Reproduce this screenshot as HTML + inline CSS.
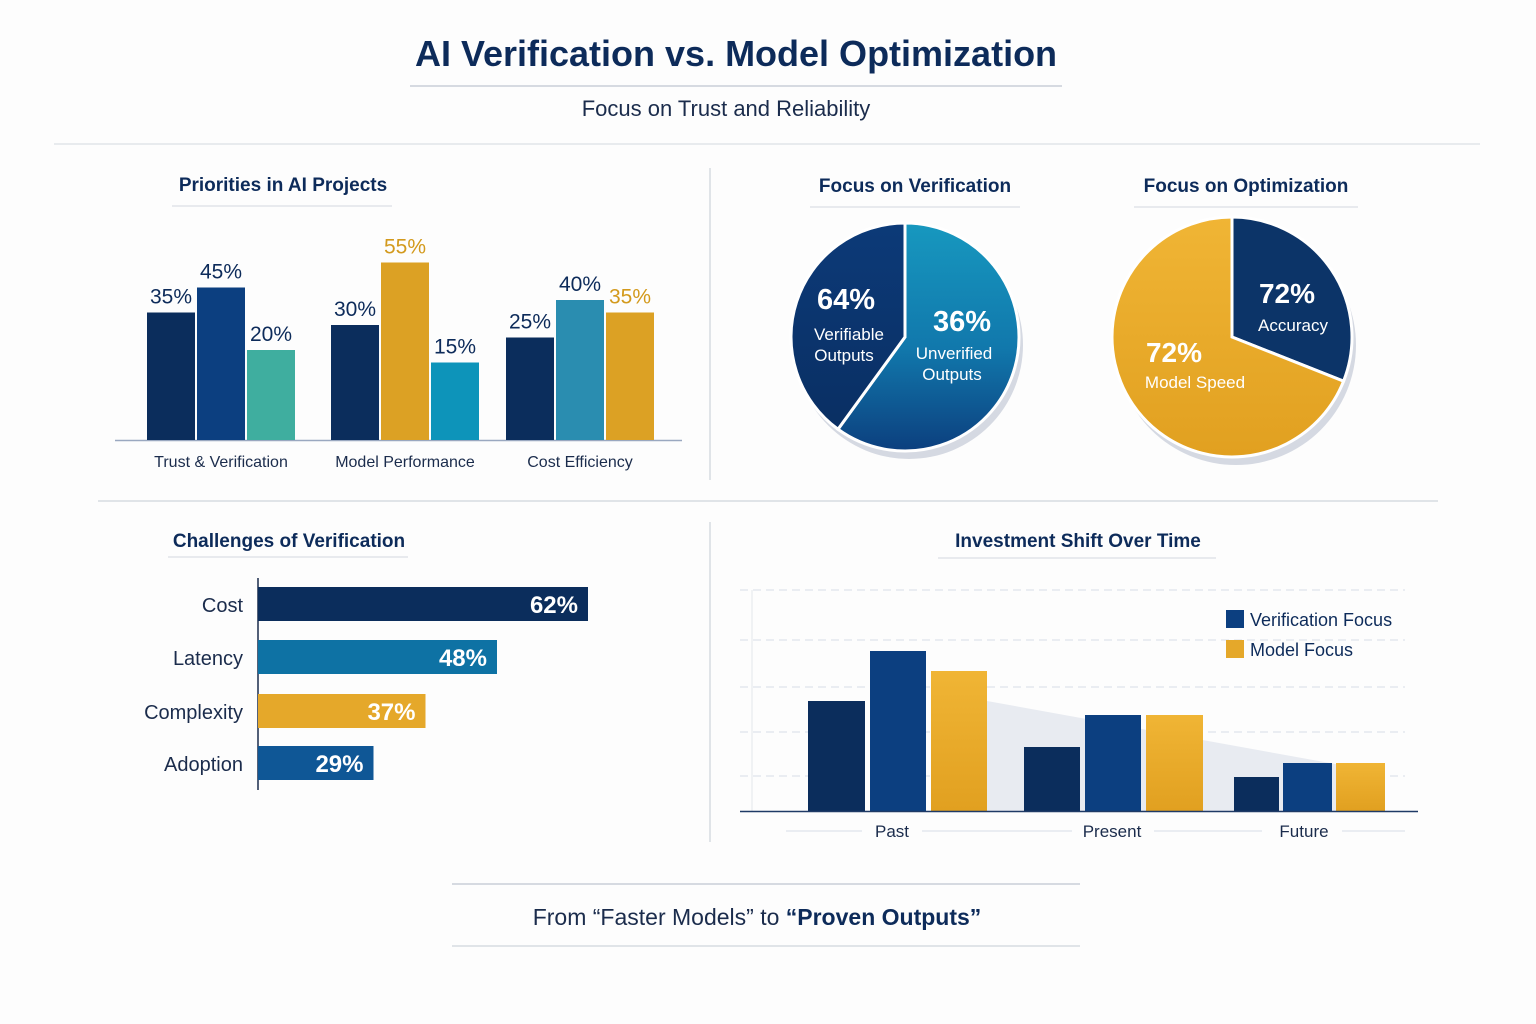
<!DOCTYPE html>
<html><head><meta charset="utf-8"><style>
body{margin:0;background:#fdfdfd;font-family:"Liberation Sans",sans-serif}
svg{display:block}
</style></head><body>
<svg id="s" width="1536" height="1024" viewBox="0 0 1536 1024" xmlns="http://www.w3.org/2000/svg">
<defs>
<linearGradient id="tealg" x1="0" y1="0" x2="0" y2="1"><stop offset="0" stop-color="#1798bf"/><stop offset="0.55" stop-color="#1178ac"/><stop offset="1" stop-color="#0c3f7e"/></linearGradient>
<linearGradient id="navyg" x1="0" y1="0" x2="0" y2="1"><stop offset="0" stop-color="#0c3a78"/><stop offset="1" stop-color="#0a2f63"/></linearGradient>
<linearGradient id="goldg" x1="0" y1="0" x2="0" y2="1"><stop offset="0" stop-color="#f0b535"/><stop offset="1" stop-color="#e1a020"/></linearGradient>
</defs>
<text x="736" y="66" text-anchor="middle" font-size="36" font-weight="bold" fill="#0d2b5a">AI Verification vs. Model Optimization</text>
<line x1="410" y1="86" x2="1062" y2="86" stroke="#c9ced8" stroke-width="1.5"/>
<text x="726" y="116" text-anchor="middle" font-size="22" fill="#1b2c4c">Focus on Trust and Reliability</text>
<line x1="54" y1="144" x2="1480" y2="144" stroke="#e2e5ea" stroke-width="1.5"/>
<line x1="710" y1="168" x2="710" y2="480" stroke="#d7dbe2" stroke-width="1.5"/>
<line x1="98" y1="501" x2="1438" y2="501" stroke="#d7dbe2" stroke-width="1.5"/>
<line x1="710" y1="522" x2="710" y2="842" stroke="#d7dbe2" stroke-width="1.5"/>

<text x="283" y="191" text-anchor="middle" font-size="19" font-weight="bold" fill="#0d2b5a">Priorities in AI Projects</text>
<line x1="172" y1="206" x2="392" y2="206" stroke="#d3d8e0"/>
<text x="915" y="192" text-anchor="middle" font-size="19" font-weight="bold" fill="#0d2b5a">Focus on Verification</text>
<line x1="810" y1="207" x2="1020" y2="207" stroke="#d3d8e0"/>
<text x="1246" y="192" text-anchor="middle" font-size="19" font-weight="bold" fill="#0d2b5a">Focus on Optimization</text>
<line x1="1134" y1="207" x2="1358" y2="207" stroke="#d3d8e0"/>
<text x="289" y="547" text-anchor="middle" font-size="19" font-weight="bold" fill="#0d2b5a">Challenges of Verification</text>
<line x1="168" y1="557" x2="408" y2="557" stroke="#d3d8e0"/>
<text x="1078" y="547" text-anchor="middle" font-size="19" font-weight="bold" fill="#0d2b5a">Investment Shift Over Time</text>
<line x1="938" y1="558" x2="1216" y2="558" stroke="#d3d8e0"/>

<g id="g1"></g>
<g id="g2"></g>
<g id="g3"></g>
<g id="g4"></g>

<line x1="452" y1="884" x2="1080" y2="884" stroke="#c9ced8" stroke-width="1.5"/>
<text x="757" y="925" text-anchor="middle" font-size="23" fill="#1b2c4c">From “Faster Models” to <tspan font-weight="bold" fill="#0d2b5a">“Proven Outputs”</tspan></text>
<line x1="452" y1="946" x2="1080" y2="946" stroke="#d7dbe2" stroke-width="1.5"/>
</svg>
<script>
// ---- Priorities data
const priCategories = ["Trust & Verification","Model Performance","Cost Efficiency"];
const priValues = [[35,45,20],[30,55,15],[25,40,35]];
const priColors = [["#0b2d5c","#0c3f80","#3fae9f"],["#0b2d5c","#dca124","#0d94ba"],["#0b2d5c","#2a8db0","#dca124"]];
const priLabelColors = [["#0d2b5a","#0d2b5a","#0d2b5a"],["#0d2b5a","#d39a1d","#0d2b5a"],["#0d2b5a","#0d2b5a","#d39a1d"]];
// ---- Pie data (slice geometry as drawn in the picture)
const pie1Values = [60,40];
const pie1Labels = ["36%","64%"];
const pie2Values = [31,69];
const pie2Labels = ["72%","72%"];
// ---- Challenges data
const chCategories = ["Cost","Latency","Complexity","Adoption"];
const chValues = [62,48,37,29];
const chColors = ["#0b2d5c","#0e72a4","#e5a82a","#0f5796"];
// ---- Investment data
const invCategories = ["Past","Present","Future"];
const invSeriesA = [55,32,17];
const invSeriesB = [80,48,24];
const invSeriesC = [70,48,24];

const NS="http://www.w3.org/2000/svg";
function mk(p,t,a){const e=document.createElementNS(NS,t);for(const k in a)e.setAttribute(k,a[k]);p.appendChild(e);return e;}

// Priorities chart
const g1=document.getElementById('g1');
const priBase=440, priX0=[147,331,506], priW=48, priGap=2;
function priH(v){return 40+2.5*v;}
mk(g1,'line',{x1:115,y1:440.5,x2:682,y2:440.5,stroke:'#9aa8c0','stroke-width':1.5});
priCategories.forEach((c,i)=>{
  priValues[i].forEach((v,j)=>{
    const x=priX0[i]+j*(priW+priGap), h=priH(v);
    const r=mk(g1,'rect',{x:x,y:priBase-h,width:priW,height:h,fill:priColors[i][j]});
    
    
    const t=mk(g1,'text',{x:x+priW/2,y:priBase-h-9,'text-anchor':'middle','font-size':21,fill:priLabelColors[i][j]});
    t.textContent=v+'%';
    
    
  });
  const l=mk(g1,'text',{x:priX0[i]+74,y:467,'text-anchor':'middle','font-size':16,fill:'#1b2c4c'});
  l.textContent=c;
  
  
});

// Pies
const g2=document.getElementById('g2');
function arc(cx,cy,r,a0,a1){const p=a=>[cx+r*Math.sin(a),cy-r*Math.cos(a)];const [x0,y0]=p(a0),[x1,y1]=p(a1);return `M${cx},${cy}L${x0},${y0}A${r},${r} 0 ${a1-a0>Math.PI?1:0} 1 ${x1},${y1}Z`;}
function pie(cx,cy,r,vals,fills){
  mk(g2,'ellipse',{cx:cx+4,cy:cy+8,rx:r,ry:r,fill:'#d5d9e2'});
  const tot=vals.reduce((a,b)=>a+b,0);let a=0;
  vals.forEach((v,i)=>{const a1=a+v/tot*2*Math.PI;
    const s=mk(g2,'path',{d:arc(cx,cy,r,a,a1),fill:fills[i],stroke:'#fff','stroke-width':3});
    
    
    a=a1;});
}
pie(905,337,114,pie1Values,['url(#tealg)','url(#navyg)']);
pie(1232,337,120,pie2Values,['#0c3468','url(#goldg)']);
function txt(x,y,s,sz,w,col,name){const t=mk(g2,'text',{x:x,y:y,'text-anchor':'middle','font-size':sz,'font-weight':w,fill:col});t.textContent=s;}
txt(846,309,pie1Labels[1],29,'bold','#fff','pie1-value-verifiable');
txt(849,340,'Verifiable',17,'normal','#fff','pie1-label');
txt(844,361,'Outputs',17,'normal','#fff','pie1-label');
txt(962,331,pie1Labels[0],29,'bold','#fff','pie1-value-unverified');
txt(954,359,'Unverified',17,'normal','#fff','pie1-label');
txt(952,380,'Outputs',17,'normal','#fff','pie1-label');
txt(1287,303,pie2Labels[0],28,'bold','#fff','pie2-value-accuracy');
txt(1293,331,'Accuracy',17,'normal','#fff','pie2-label');
txt(1174,362,pie2Labels[1],28,'bold','#fff','pie2-value-speed');
txt(1195,388,'Model Speed',17,'normal','#fff','pie2-label');

// Challenges
const g3=document.getElementById('g3');
const chX0=258, chY=[587,640,694,746], chH=34;
function chW(v){return 6.5*v-73;}
mk(g3,'line',{x1:258,y1:578,x2:258,y2:790,stroke:'#1b2c4c','stroke-width':1.5});
chCategories.forEach((c,i)=>{
  const w=chW(chValues[i]);
  const r=mk(g3,'rect',{x:chX0,y:chY[i],width:w,height:chH,fill:chColors[i]});
  
  
  const t=mk(g3,'text',{x:chX0+w-10,y:chY[i]+26,'text-anchor':'end','font-size':24,'font-weight':'bold',fill:'#fff'});
  t.textContent=chValues[i]+'%';
  
  
  const l=mk(g3,'text',{x:243,y:chY[i]+25,'text-anchor':'end','font-size':20,fill:'#1b2c4c'});
  l.textContent=c;
  
  
});

// Investment
const g4=document.getElementById('g4');
const invBase=811;
function invH(v){return v*2;}
[590,640,687,732,776].forEach(y=>mk(g4,'line',{x1:740,y1:y,x2:1405,y2:y,stroke:'#d8dde7','stroke-dasharray':'8 5'}));
mk(g4,'line',{x1:752,y1:590,x2:752,y2:811,stroke:'#e3e6ec'});
const invX=[[808,870,931],[1024,1085,1146],[1234,1283,1336]];
const invW=[[57,56,56],[56,56,57],[45,49,49]];
mk(g4,'polygon',{points:`987,${invBase-invH(invSeriesC[0])+30} 1385,${invBase-invH(invSeriesC[2])+10} 1385,811 987,811`,fill:'#e8ebf1'});
const invCols=['#0b2d5c','#0c3f80','url(#goldg)'];
const series=[invSeriesA,invSeriesB,invSeriesC];
invCategories.forEach((c,i)=>{
  series.forEach((s,j)=>{
    const h=invH(s[i]);
    const r=mk(g4,'rect',{x:invX[i][j],y:invBase-h,width:invW[i][j],height:h,fill:invCols[j]});
    
    
  });
  const cx=[892,1112,1304][i];
  const l=mk(g4,'text',{x:cx,y:837,'text-anchor':'middle','font-size':17,fill:'#1b2c4c'});
  l.textContent=c;
  
  
});
mk(g4,'line',{x1:740,y1:811.5,x2:1418,y2:811.5,stroke:'#1f3a66','stroke-width':1.5});
[[786,862],[922,1072],[1154,1262],[1342,1405]].forEach(p=>mk(g4,'line',{x1:p[0],y1:831,x2:p[1],y2:831,stroke:'#d8dde7'}));
const lg1=mk(g4,'rect',{x:1226,y:610,width:18,height:18,fill:'#0c3f80'});


const lt1=mk(g4,'text',{x:1250,y:626,'font-size':18,fill:'#0d2b5a'});lt1.textContent='Verification Focus';


const lg2=mk(g4,'rect',{x:1226,y:640,width:18,height:18,fill:'#e5a82a'});


const lt2=mk(g4,'text',{x:1250,y:656,'font-size':18,fill:'#0d2b5a'});lt2.textContent='Model Focus';


</script>
</body></html>
